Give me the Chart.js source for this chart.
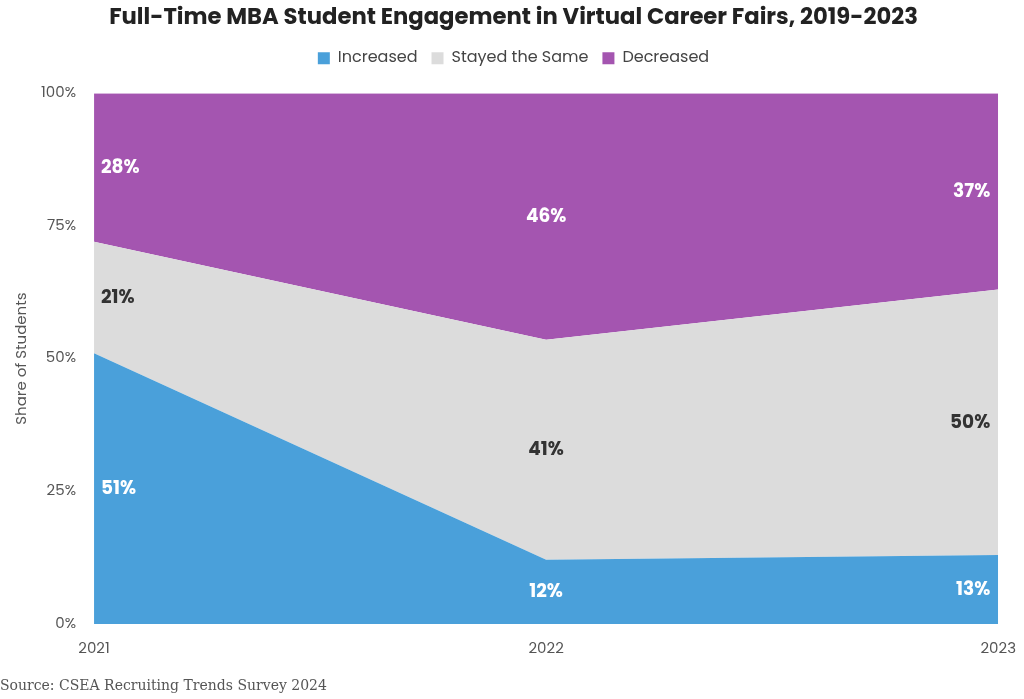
<!DOCTYPE html>
<html>
<head>
<meta charset="utf-8">
<script src="https://cdn.jsdelivr.net/npm/chart.js@4"></script>
<style>
  html, body { margin: 0; padding: 0; background: #fff; }
  #wrap { width: 1024px; height: 699px; position: relative; }
</style>
</head>
<body>
<div id="wrap"><canvas id="mbaChart"></canvas></div>
<script>
const years = ["2021", "2022", "2023"];
const increased = [51, 12, 13];
const stayedSame = [21, 41, 50];
const decreased = [28, 46, 37];
const yTicks = [0, 25, 50, 75, 100];
const sourceNote = "Source: CSEA Recruiting Trends Survey 2024";

const sansFont = "Poppins, 'DejaVu Sans', sans-serif";

// shares are drawn as a 100% stack, so each year is scaled to its own total
const totals = years.map((_, i) => increased[i] + stayedSame[i] + decreased[i]);
const share = arr => arr.map((v, i) => v / totals[i] * 100);

const seriesInfo = [
  { label: "Increased", raw: increased, color: "#4aa0da", text: "#ffffff" },
  { label: "Stayed the Same", raw: stayedSame, color: "#dcdcdc", text: "#333333" },
  { label: "Decreased", raw: decreased, color: "#a455b0", text: "#ffffff" }
];

// draws the % labels in the middle of each band plus the source line
const labelPlugin = {
  id: "bandLabels",
  beforeInit(chart) {
    // a bit more room under the legend
    const fit = chart.legend.fit;
    chart.legend.fit = function () {
      fit.call(this);
      this.height += 17;
    };
  },
  afterDatasetsDraw(chart) {
    const ctx = chart.ctx;
    const x = chart.scales.x;
    const y = chart.scales.y;
    ctx.save();
    ctx.font = "bold 18.5px " + sansFont;
    ctx.textBaseline = "middle";
    years.forEach((yr, i) => {
      let base = 0;
      seriesInfo.forEach(s => {
        const v = s.raw[i] / totals[i] * 100;
        const mid = base + v / 2;
        base += v;
        let px = x.getPixelForValue(i);
        if (i === 0) { ctx.textAlign = "left"; px += 7; }
        else if (i === years.length - 1) { ctx.textAlign = "right"; px -= 8; }
        else ctx.textAlign = "center";
        ctx.fillStyle = s.text;
        ctx.fillText(s.raw[i] + "%", px, y.getPixelForValue(mid) + 1);
      });
    });
    ctx.restore();
  },
  afterDraw(chart) {
    const ctx = chart.ctx;
    ctx.save();
    ctx.font = "14px 'DejaVu Serif', serif";
    ctx.fillStyle = "#555555";
    ctx.textAlign = "left";
    ctx.textBaseline = "middle";
    ctx.fillText(sourceNote, 0, 686);
    ctx.restore();
  }
};

const ctx = document.getElementById("mbaChart").getContext("2d");
new Chart(ctx, {
  type: "line",
  data: {
    labels: years,
    datasets: seriesInfo.map((s, k) => ({
      label: s.label,
      data: share(s.raw),
      backgroundColor: s.color,
      borderColor: s.color,
      borderWidth: 0,
      pointRadius: 0,
      tension: 0,
      fill: k === 0 ? "origin" : "-1"
    }))
  },
  options: {
    responsive: true,
    maintainAspectRatio: false,
    animation: false,
    layout: { padding: { left: 13, right: 10, top: 5, bottom: 33 } },
    plugins: {
      title: {
        display: true,
        text: "Full-Time MBA Student Engagement in Virtual Career Fairs, 2019-2023",
        color: "#222222",
        font: { family: sansFont, size: 22.7, weight: "bold" },
        padding: { top: 0, bottom: 4 }
      },
      legend: {
        labels: {
          boxWidth: 12,
          boxHeight: 12,
          color: "#444444",
          padding: 14,
          font: { family: sansFont, size: 16 }
        }
      },
      tooltip: { enabled: false }
    },
    scales: {
      x: {
        offset: false,
        grid: { display: false },
        border: { display: false },
        ticks: { color: "#555555", padding: 8, font: { family: sansFont, size: 15 } }
      },
      y: {
        stacked: true,
        min: 0,
        max: 100,
        grid: { display: false },
        border: { display: false },
        afterBuildTicks: axis => { axis.ticks = yTicks.map(v => ({ value: v })); },
        ticks: {
          color: "#555555",
          padding: 10,
          font: { family: sansFont, size: 15 },
          callback: v => v + "%"
        },
        title: {
          display: true,
          text: "Share of Students",
          color: "#555555",
          padding: 0,
          font: { family: sansFont, size: 15 }
        }
      }
    }
  },
  plugins: [labelPlugin]
});
</script>
</body>
</html>
